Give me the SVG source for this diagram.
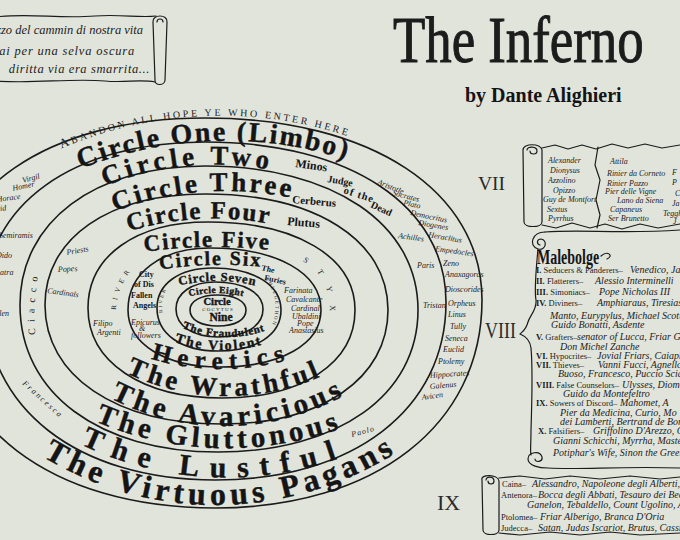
<svg xmlns="http://www.w3.org/2000/svg" width="680" height="540" viewBox="0 0 680 540">
<style>
.ring{fill:none;stroke:#1b1b1b;stroke-width:1.6}
.edge{fill:none;stroke:#1b1b1b;stroke-width:1.2;stroke-linejoin:round;stroke-linecap:round}
.lbl{font-family:"Liberation Serif","Times New Roman",serif;font-weight:bold;fill:#151515;stroke:#151515;stroke-width:0.4}
.nm{font-family:"Liberation Serif","Times New Roman",serif;font-style:italic;font-size:8px;fill:#1c1c1c}
.bk{font-family:"Liberation Serif","Times New Roman",serif;font-weight:bold;fill:#151515}
.cap{font-family:"Liberation Serif","Times New Roman",serif;fill:#1c1c1c}
.num{font-family:"Liberation Serif","Times New Roman",serif;fill:#2a2a2a}
.mr{font-family:"Liberation Serif","Times New Roman",serif;font-size:8.5px;fill:#1c1c1c}
.mb{font-weight:bold}
.mi{font-family:"Liberation Serif","Times New Roman",serif;font-style:italic;font-size:10px;fill:#1c1c1c}
.qi{font-family:"Liberation Serif","Times New Roman",serif;font-style:italic;font-size:12.5px;fill:#1c1c1c}
</style>
<defs>
<path id="tp1" d="M78,170 A392,392 0 0 1 348,160"/>
<path id="tp2" d="M103,187 A288,288 0 0 1 270,170"/>
<path id="tp3" d="M113,212 A316,316 0 0 1 292,198"/>
<path id="tp4" d="M127,232 A289,289 0 0 1 270,224"/>
<path id="tp5" d="M143,252 A506,506 0 0 1 270,250"/>
<path id="tp6" d="M157,270 A403,403 0 0 1 263,267"/>
<path id="tp7" d="M177,286 A162,162 0 0 1 257,286"/>
<path id="tp8" d="M187,297 A107,107 0 0 1 245,297"/>
<path id="bp1" d="M40,455 A335,335 0 0 0 397,452"/>
<path id="bp2" d="M78,443 A338,338 0 0 0 340,458"/>
<path id="bp3" d="M92,420 A337,337 0 0 0 342,428"/>
<path id="bp4" d="M108,397 A249,249 0 0 0 345,395"/>
<path id="bp5" d="M124,372 A234,234 0 0 0 322,376"/>
<path id="bp6" d="M148,358 A250,250 0 0 0 288,360"/>
<path id="bp7" d="M172,341 A145,145 0 0 0 264,344"/>
<path id="bp8" d="M180,327 A115,115 0 0 0 267,330"/>
<path id="abandon" d="M58,150 A402,402 0 0 1 350,137"/>
<path id="riv1" d="M116,318 Q114,288 138,262"/>
<path id="styx" d="M292,258 Q338,270 328,335"/>
<path id="riv2" d="M164,318 Q158,300 170,284"/>
<path id="phl" d="M262,276 Q284,298 270,330"/>
<path id="ciacco" d="M37,348 Q30,305 42,258"/>
</defs>
<rect width="680" height="540" fill="#e1e4db"/>

<g id="rings">
<path class="ring" d="M205,118 C371,118 482,191 482,300 C482,425 375,508 215,508 C51,508 -58,425 -58,300 C-58,191 47,118 205,118Z"/>
<path class="ring" d="M205,142 C350,142 446,206 446,302 C446,409 354,480 215,480 C77,480 -15,408 -15,300 C-15,205 73,142 205,142Z"/>
<path class="ring" d="M205,166 C333,166 418,224 418,310 C418,395 338,452 218,452 C99,452 20,393 20,305 C20,222 94,166 205,166Z"/>
<path class="ring" d="M205,194 C315,194 388,240 388,310 C388,378 322,424 222,424 C116,424 45,376 45,305 C45,238 109,194 205,194Z"/>
<path class="ring" d="M208,222 C296,222 355,257 355,310 C355,363 302,398 222,398 C142,398 88,362 88,308 C88,256 136,222 208,222Z"/>
<path class="ring" d="M210,248 C277,248 321,273 321,310 C321,344 281,367 220,367 C165,367 128,344 128,310 C128,273 161,248 210,248Z"/>
<path class="ring" d="M213,268 C254,268 281,285 281,310 C281,335 256,351 218,351 C181,351 157,334 157,308 C157,284 179,268 213,268Z"/>
<path class="ring" d="M215,282 C244,282 263,293 263,309 C263,326 245,337 218,337 C193,337 176,326 176,309 C176,293 192,282 215,282Z"/>
<path class="ring" d="M217,295 C234,295 246,301 246,310 C246,320 235,326 218,326 C201,326 190,320 190,310 C190,301 201,295 217,295Z"/>
</g>

<g id="ring-labels">
<text class="cap" font-size="10"><textPath href="#abandon" startOffset="50%" text-anchor="middle" textLength="292" lengthAdjust="spacing"><tspan font-size="13">A</tspan>BANDON ALL HOPE YE WHO ENTER HERE</textPath></text>
<text class="lbl" font-size="28"><textPath href="#tp1" startOffset="50%" text-anchor="middle" textLength="270" lengthAdjust="spacing">Circle One (Limbo)</textPath></text>
<text class="lbl" font-size="27"><textPath href="#tp2" startOffset="50%" text-anchor="middle" textLength="166" lengthAdjust="spacing">Circle Two</textPath></text>
<text class="lbl" font-size="27"><textPath href="#tp3" startOffset="50%" text-anchor="middle" textLength="178" lengthAdjust="spacing">Circle Three</textPath></text>
<text class="lbl" font-size="25"><textPath href="#tp4" startOffset="50%" text-anchor="middle" textLength="141" lengthAdjust="spacing">Circle Four</textPath></text>
<text class="lbl" font-size="23"><textPath href="#tp5" startOffset="50%" text-anchor="middle" textLength="124" lengthAdjust="spacing">Circle Five</textPath></text>
<text class="lbl" font-size="20"><textPath href="#tp6" startOffset="50%" text-anchor="middle" textLength="100" lengthAdjust="spacing">Circle Six</textPath></text>
<text class="lbl" font-size="12.5"><textPath href="#tp7" startOffset="50%" text-anchor="middle" textLength="76" lengthAdjust="spacing">Circle Seven</textPath></text>
<text class="lbl" font-size="9.5"><textPath href="#tp8" startOffset="50%" text-anchor="middle" textLength="54" lengthAdjust="spacing">Circle Eight</textPath></text>
<text class="lbl" x="217" y="305" font-size="10.5" text-anchor="middle">Circle</text>
<text class="cap" x="218" y="311" font-size="5" text-anchor="middle" letter-spacing="1.2">COCYTUS</text>
<text class="lbl" x="221" y="321" font-size="11.5" text-anchor="middle">Nine</text>
<text class="lbl" font-size="32"><textPath href="#bp1" startOffset="50%" text-anchor="middle" textLength="370" lengthAdjust="spacing">The Virtuous Pagans</textPath></text>
<text class="lbl" font-size="30"><textPath href="#bp2" startOffset="50%" text-anchor="middle" textLength="264" lengthAdjust="spacing">The Lustful</textPath></text>
<text class="lbl" font-size="29"><textPath href="#bp3" startOffset="50%" text-anchor="middle" textLength="250" lengthAdjust="spacing">The Gluttonous</textPath></text>
<text class="lbl" font-size="29"><textPath href="#bp4" startOffset="50%" text-anchor="middle" textLength="242" lengthAdjust="spacing">The Avaricious</textPath></text>
<text class="lbl" font-size="27"><textPath href="#bp5" startOffset="50%" text-anchor="middle" textLength="200" lengthAdjust="spacing">The Wrathful</textPath></text>
<text class="lbl" font-size="25"><textPath href="#bp6" startOffset="50%" text-anchor="middle" textLength="136" lengthAdjust="spacing">Heretics</textPath></text>
<text class="lbl" font-size="14"><textPath href="#bp7" startOffset="50%" text-anchor="middle" textLength="88" lengthAdjust="spacing">The Violent</textPath></text>
<text class="lbl" font-size="11"><textPath href="#bp8" startOffset="50%" text-anchor="middle" textLength="84" lengthAdjust="spacing">The Fraudulent</textPath></text>
<text class="cap" font-size="7" letter-spacing="5"><textPath href="#riv1" startOffset="50%" text-anchor="middle">RIVER</textPath></text>
<text class="cap" font-size="8" letter-spacing="13"><textPath href="#styx" startOffset="50%" text-anchor="middle">STYX</textPath></text>
<text class="cap" font-size="5" letter-spacing="2"><textPath href="#riv2" startOffset="50%" text-anchor="middle">RIVER</textPath></text>
<text class="cap" font-size="5" letter-spacing="1.6"><textPath href="#phl" startOffset="50%" text-anchor="middle">PHLEGETHON</textPath></text>
<text class="cap" font-size="10" letter-spacing="6"><textPath href="#ciacco" startOffset="50%" text-anchor="middle">Ciacco</textPath></text>
</g>

<g id="names">
<text class="nm" font-size="9" transform="translate(23,183) rotate(-15)">Virgil</text>
<text class="nm" transform="translate(13,191) rotate(-12)">Homer</text>
<text class="nm" transform="translate(-3,202) rotate(-8)">Horace</text>
<text class="nm" transform="translate(-9,212) rotate(-6)">Ovid</text>
<text class="nm" x="-1" y="238">Semiramis</text>
<text class="nm" x="-4" y="258">Dido</text>
<text class="nm" x="-19" y="275">Cleopatra</text>
<text class="nm" x="-10" y="316">Helen</text>
<text class="nm" font-size="9.5" letter-spacing="2" transform="translate(22,384) rotate(42)">Francesca</text>
<text class="nm" font-size="9" letter-spacing="1" transform="translate(352,437) rotate(-15)">Paolo</text>
<text class="nm" transform="translate(67,255) rotate(-10)">Priests</text>
<text class="nm" font-size="9" transform="translate(58,272) rotate(-3)">Popes</text>
<text class="nm" font-size="9" transform="translate(47,293) rotate(8)">Cardinals</text>
<text class="nm" x="93" y="326">Filipo</text>
<text class="nm" x="97" y="335">Argenti</text>
<text class="bk" font-size="8" x="139" y="277">City</text>
<text class="bk" font-size="8" x="134" y="287">of Dis</text>
<text class="bk" font-size="8" x="131" y="298">Fallen</text>
<text class="bk" font-size="8" x="133" y="308">Angels</text>
<text class="nm" font-size="7" x="131" y="325">Epicurus</text>
<text class="nm" font-size="6" x="139" y="331">&amp;</text>
<text class="nm" font-size="7" x="131" y="338">followers</text>
<text class="bk" font-size="8" transform="translate(261,270) rotate(14)">The</text>
<text class="bk" font-size="8" transform="translate(264,280) rotate(12)">Furies</text>
<text class="nm" font-size="7" x="284" y="293">Farinata</text>
<text class="nm" font-size="7" x="286" y="302">Cavalcante</text>
<text class="nm" font-size="7" x="291" y="311">Cardinal</text>
<text class="nm" font-size="7" x="292" y="319">Ubaldini</text>
<text class="nm" font-size="7" x="297" y="326">Pope</text>
<text class="nm" font-size="7" x="289" y="333">Anastasius</text>
<text class="bk" font-size="12" transform="translate(295,167) rotate(8)">Minos</text>
<text class="bk" font-size="10" transform="translate(327,182) rotate(10)">Judge</text>
<text class="bk" font-size="10.5" letter-spacing="1" transform="translate(343,193) rotate(18)">of the</text>
<text class="bk" font-size="10" transform="translate(370,207) rotate(25)">Dead</text>
<text class="bk" font-size="11" transform="translate(292,203) rotate(5)">Cerberus</text>
<text class="bk" font-size="12" transform="translate(287,225) rotate(5)">Plutus</text>
<text class="nm" transform="translate(398,238) rotate(8)">Achilles</text>
<text class="nm" x="417" y="268">Paris</text>
<text class="nm" x="423" y="308">Tristan</text>
<text class="nm" transform="translate(377,184) rotate(22)">Aristotle</text>
<text class="nm" transform="translate(392,195) rotate(15)">Socrates</text>
<text class="nm" transform="translate(403,205) rotate(12)">Plato</text>
<text class="nm" transform="translate(410,215) rotate(12)">Democritus</text>
<text class="nm" transform="translate(418,225) rotate(10)">Diogenes</text>
<text class="nm" transform="translate(428,237) rotate(10)">Heraclitus</text>
<text class="nm" transform="translate(435,251) rotate(8)">Empedocles</text>
<text class="nm" x="443" y="266">Zeno</text>
<text class="nm" font-size="7.5" x="445" y="277">Anaxagoras</text>
<text class="nm" font-size="7.5" x="445" y="292">Dioscorides</text>
<text class="nm" x="448" y="306">Orpheus</text>
<text class="nm" x="448" y="317">Linus</text>
<text class="nm" x="450" y="329">Tully</text>
<text class="nm" x="445" y="341">Seneca</text>
<text class="nm" x="443" y="352">Euclid</text>
<text class="nm" x="438" y="364">Ptolemy</text>
<text class="nm" transform="translate(430,378) rotate(-4)">Hippocrates</text>
<text class="nm" transform="translate(430,389) rotate(-5)">Galenus</text>
<text class="nm" transform="translate(422,400) rotate(-8)">Avicen</text>
</g>

<g id="title">
<text class="cap" font-size="66" stroke="#1c1c1c" stroke-width="1" transform="translate(393,62) scale(0.8,1)">The Inferno</text>
<text class="bk" font-size="20" x="465" y="102">by Dante Alighieri</text>
</g>

<g id="quote-scroll">
<path class="edge" d="M-5,17 C30,13 60,19 95,16 C120,14 140,18 156,16"/>
<path class="edge" d="M-5,81 C35,84 70,78 105,81 C125,83 140,79 155,82"/>
<path class="edge" d="M153,22 C152,14 168,14 167,22 L165,80 C165,86 154,86 155,80 Z"/>
<path class="edge" d="M157,22 C157,18 163,18 163,22"/>
<text class="qi" x="143" y="34" text-anchor="end">zzo del cammin di nostra vita</text>
<text class="qi" x="135" y="55" text-anchor="end" letter-spacing="0.8">ai per una selva oscura</text>
<text class="qi" x="150" y="73" text-anchor="end" letter-spacing="0.6">diritta via era smarrita...</text>
</g>

<g id="scroll-vii">
<text class="num" font-size="19.5" x="478" y="190">VII</text>
<path class="edge" d="M523,150 C523,143 541,143 542,150 L542,222 C542,228 524,228 524,222 Z"/>
<path class="edge" d="M527,150 C527,146 537,146 537,151 C537,155 530,155 530,151"/>
<path class="edge" d="M542,148 L555,145 L568,149 L582,145 L596,149 L612,144 L628,148 L645,144 L662,148 L680,145"/>
<path class="edge" d="M542,225 L556,228 L572,223 L590,228 L605,224 L622,229 L640,224 L658,228 L680,224"/>
<path class="edge" d="M598,147 L595,165 L600,180 L596,200 L600,215 L597,228"/>
<text class="nm" font-size="9.5" x="548" y="163">Alexander</text>
<text class="nm" font-size="9.5" x="550" y="173">Dionysus</text>
<text class="nm" font-size="9.5" x="548" y="183">Azzolino</text>
<text class="nm" font-size="9.5" x="553" y="193">Opizzo</text>
<text class="nm" font-size="9.5" x="543" y="202">Guy de Montfort</text>
<text class="nm" font-size="9.5" x="547" y="212">Sextus</text>
<text class="nm" font-size="9.5" x="548" y="221">Pyrrhus</text>
<text class="nm" font-size="9" x="610" y="164">Attila</text>
<text class="nm" font-size="8.5" x="607" y="176">Rinier da Corneto</text>
<text class="nm" font-size="8.5" x="607" y="186">Rinier Pazzo</text>
<text class="nm" font-size="8.5" x="605" y="194">Pier delle Vigne</text>
<text class="nm" font-size="8.5" x="617" y="203">Lano da Siena</text>
<text class="nm" font-size="8.5" x="610" y="212">Capaneus</text>
<text class="nm" font-size="8.5" x="608" y="221">Ser Brunetto</text>
<text class="nm" font-size="9" x="672" y="175">F</text>
<text class="nm" font-size="9" x="672" y="185">P</text>
<text class="nm" font-size="9" x="675" y="196">C</text>
<text class="nm" font-size="9" x="672" y="206">Ja</text>
<text class="nm" font-size="8.5" x="663" y="216">Tegghi</text>
<text class="nm" font-size="9" x="673" y="224">J</text>
</g>

<g id="scroll-malebolge">
<text class="num" font-size="24" transform="translate(485,338) scale(0.75,1)">VIII</text>
<path class="edge" d="M545,232 C580,229 620,234 680,230"/>
<path class="edge" d="M545,232 C532,232 528,246 538,249 C546,251 548,240 541,239 C537,239 536,244 540,245"/>
<path class="edge" d="M538,249 C536,270 534,290 536,300 C537,310 530,315 528,322 C526,330 522,332 520,334 C525,336 530,340 531,348 C533,370 532,400 531,430 C531,445 530,452 531,455"/>
<path class="edge" d="M680,468 C620,466 580,470 548,468 C540,468 528,466 528,459 C528,452 540,450 542,457 C543,462 535,463 535,459"/>
<text class="bk" font-size="20" transform="translate(537,264) scale(0.7,1)">Malebolge</text>
<path class="edge" d="M601,256 C608,250 614,256 607,259"/>
<text x="536" y="273"><tspan class="mr"><tspan class="mb">I.</tspan> Seducers &amp; Panderers– </tspan><tspan class="mi" x="630">Venedico, Ja</tspan></text>
<text x="536" y="284"><tspan class="mr"><tspan class="mb">II.</tspan> Flatterers– </tspan><tspan class="mi" x="595">Alessio Interminelli</tspan></text>
<text x="536" y="295"><tspan class="mr"><tspan class="mb">III.</tspan> Simoniacs– </tspan><tspan class="mi" x="599">Pope Nicholas III</tspan></text>
<text x="536" y="306"><tspan class="mr"><tspan class="mb">IV.</tspan> Diviners– </tspan><tspan class="mi" x="597">Amphiaraus, Tiresias, A</tspan></text>
<text class="mi" x="550" y="319">Manto, Eurypylus, Michael Scott,</text>
<text class="mi" x="551" y="328">Guido Bonatti, Asdente</text>
<text x="536" y="340"><tspan class="mr"><tspan class="mb">V.</tspan> Grafters– </tspan><tspan class="mi" font-size="9" x="577">senator of Lucca, Friar Gomita</tspan></text>
<text class="mi" x="560" y="350">Don Michel Zanche</text>
<text x="536" y="359"><tspan class="mr"><tspan class="mb">VI.</tspan> Hypocrites– </tspan><tspan class="mi" x="597">Jovial Friars, Caiapha</tspan></text>
<text x="536" y="368"><tspan class="mr"><tspan class="mb">VII.</tspan> Thieves– </tspan><tspan class="mi" x="598">Vanni Fucci, Agnello, Ci</tspan></text>
<text class="mi" x="558" y="377">Buoso, Francesco, Puccio Sciancat</text>
<text x="536" y="388"><tspan class="mr"><tspan class="mb">VIII.</tspan> False Counselors– </tspan><tspan class="mi" x="622">Ulysses, Diomede,</tspan></text>
<text class="mi" x="563" y="397">Guido da Montefeltro</text>
<text x="536" y="406"><tspan class="mr"><tspan class="mb">IX.</tspan> Sowers of Discord– </tspan><tspan class="mi" x="620">Mahomet, A</tspan></text>
<text class="mi" x="560" y="416">Pier da Medicina, Curio, Mo</text>
<text class="mi" x="560" y="425">dei Lamberti, Bertrand de Born</text>
<text x="538" y="434"><tspan class="mr"><tspan class="mb">X.</tspan> Falsifiers– </tspan><tspan class="mi" x="593">Griffolino D'Arezzo, Ca</tspan></text>
<text class="mi" x="553" y="444">Gianni Schicchi, Myrrha, Master A</text>
<text class="mi" x="553" y="456">Potiphar's Wife, Sinon the Greek</text>
</g>

<g id="scroll-ix">
<text class="num" font-size="22" x="437" y="510">IX</text>
<path class="edge" d="M482,480 C480,474 498,474 499,481 L499,530 C499,536 483,536 483,530 Z"/>
<path class="edge" d="M486,480 C486,476 494,476 494,481 C494,485 488,485 488,481"/>
<path class="edge" d="M499,478 L520,476 L545,479 L570,476 L600,479 L630,476 L660,479 L680,477"/>
<path class="edge" d="M499,533 L520,535 L550,532 L580,535 L610,532 L640,535 L680,533"/>
<text x="502" y="487"><tspan class="mr">Caina– </tspan><tspan class="mi" font-size="8.5" x="532">Alessandro, Napoleone degli Alberti, Sassol Masche</tspan></text>
<text x="501" y="498"><tspan class="mr">Antenora– </tspan><tspan class="mi" font-size="8.5" x="538">Bocca degli Abbati, Tesauro dei Beccheria, Gi</tspan></text>
<text class="mi" font-size="8.5" x="527" y="508">Ganelon, Tebaldello, Count Ugolino, Archbishop</text>
<text x="501" y="520"><tspan class="mr">Ptolomea– </tspan><tspan class="mi" font-size="8.5" x="540">Friar Alberigo, Branca D'Oria</tspan></text>
<text x="501" y="531"><tspan class="mr">Judecca– </tspan><tspan class="mi" font-size="8.5" x="538">Satan, Judas Iscariot, Brutus, Cassius</tspan></text>
</g>
</svg>
